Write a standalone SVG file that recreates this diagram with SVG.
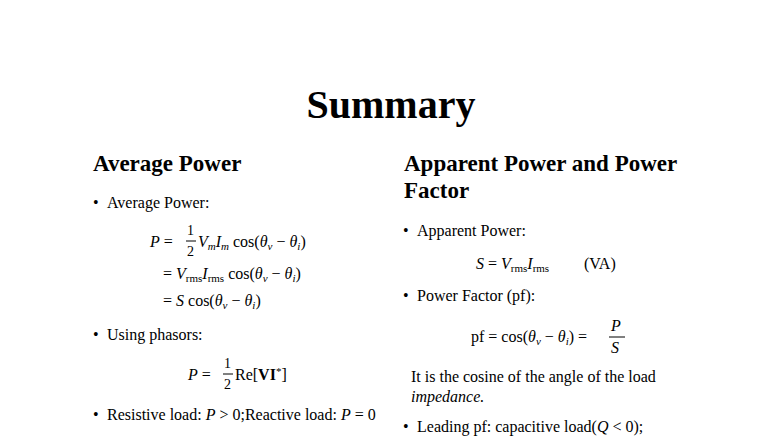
<svg xmlns="http://www.w3.org/2000/svg" width="784" height="441" viewBox="0 0 784 441">
<style>
text{font-family:"Liberation Serif","DejaVu Serif",serif;fill:#000;font-size:16px}
.t{font-size:40px;font-weight:bold}
.h{font-size:23px;font-weight:bold}
.m{font-style:italic}
.s{font-size:11px}
.f{font-size:14px}
</style>
<rect width="784" height="441" fill="#fff"/>
<text class="t" x="391" y="118" text-anchor="middle">Summary</text>
<g id="left">
<text class="h" x="93" y="171">Average Power</text>
<text x="93" y="208">•</text><text x="107" y="208">Average Power:</text>
<text x="150" y="247"><tspan class="m">P</tspan> =</text>
<text class="f" x="187" y="235">1</text><line x1="186" y1="241" x2="196" y2="241" stroke="#000"/><text class="f" x="187" y="256">2</text>
<text x="198" y="247"><tspan class="m">V</tspan><tspan class="m s" dy="3">m</tspan><tspan class="m" dy="-3">I</tspan><tspan class="m s" dy="3">m</tspan><tspan dy="-3"> cos(</tspan><tspan class="m">θ</tspan><tspan class="m s" dy="3">v</tspan><tspan dy="-3"> − </tspan><tspan class="m">θ</tspan><tspan class="m s" dy="3">i</tspan><tspan dy="-3">)</tspan></text>
<text x="163" y="279">= <tspan class="m">V</tspan><tspan class="s" dy="3">rms</tspan><tspan class="m" dy="-3">I</tspan><tspan class="s" dy="3">rms</tspan><tspan dy="-3"> cos(</tspan><tspan class="m">θ</tspan><tspan class="m s" dy="3">v</tspan><tspan dy="-3"> − </tspan><tspan class="m">θ</tspan><tspan class="m s" dy="3">i</tspan><tspan dy="-3">)</tspan></text>
<text x="163" y="306">= <tspan class="m">S</tspan> cos(<tspan class="m">θ</tspan><tspan class="m s" dy="3">v</tspan><tspan dy="-3"> − </tspan><tspan class="m">θ</tspan><tspan class="m s" dy="3">i</tspan><tspan dy="-3">)</tspan></text>
<text x="93" y="340">•</text><text x="107" y="340">Using phasors:</text>
<text x="188" y="380"><tspan class="m">P</tspan> =</text>
<text class="f" x="224" y="368">1</text><line x1="223" y1="374" x2="233" y2="374" stroke="#000"/><text class="f" x="224" y="389">2</text>
<text x="235" y="380">Re[<tspan font-weight="bold">VI</tspan><tspan class="s" dy="-5">*</tspan><tspan dy="5">]</tspan></text>
<text x="93" y="420">•</text><text x="107" y="420">Resistive load: <tspan class="m">P</tspan> &gt; 0;Reactive load: <tspan class="m">P</tspan> = 0</text>
</g>
<g id="right">
<text class="h" x="404" y="171">Apparent Power and Power</text>
<text class="h" x="404" y="198">Factor</text>
<text x="403" y="236">•</text><text x="417" y="236">Apparent Power:</text>
<text x="476" y="269"><tspan class="m">S</tspan> = <tspan class="m">V</tspan><tspan class="s" dy="3">rms</tspan><tspan class="m" dy="-3">I</tspan><tspan class="s" dy="3">rms</tspan></text>
<text x="584" y="269">(VA)</text>
<text x="403" y="301">•</text><text x="417" y="301">Power Factor (pf):</text>
<text x="471" y="342">pf = cos(<tspan class="m">θ</tspan><tspan class="m s" dy="3">v</tspan><tspan dy="-3"> − </tspan><tspan class="m">θ</tspan><tspan class="m s" dy="3">i</tspan><tspan dy="-3">) =</tspan></text>
<text class="m" x="611" y="331">P</text><line x1="609" y1="337" x2="625" y2="337" stroke="#000"/><text class="m" x="611" y="353">S</text>
<text x="411" y="382">It is the cosine of the angle of the load</text>
<text class="m" x="411" y="402">impedance.</text>
<text x="403" y="432">•</text><text x="417" y="432">Leading pf: capacitive load(<tspan class="m">Q</tspan> &lt; 0);</text>
</g>
</svg>
